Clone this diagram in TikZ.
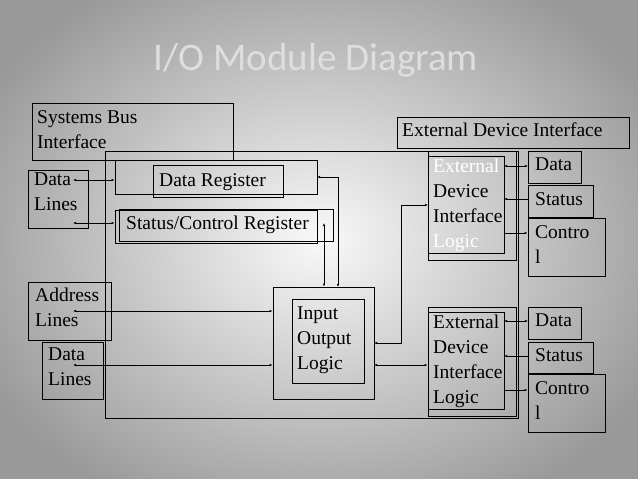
\documentclass[tikz,border=0pt]{standalone}
\usepackage{fontspec}
\setmainfont{Liberation Serif}
\newfontfamily\titlefont{Carlito}
\usetikzlibrary{positioning}
\usetikzlibrary{arrows.meta}
\definecolor{titlegray}{RGB}{222, 222, 222}
\tikzset{
	box/.style={draw=black, line width=0.9pt, inner sep=0pt},
	txt/.style={anchor=north west, inner sep=0pt, align=left, font=\fontsize{19.5}{25}\selectfont},
	link/.style={line width=0.7pt, {Latex[length=3pt,width=2.5pt]}-{Latex[length=3pt,width=2.5pt]}},
	tolink/.style={line width=0.7pt, -{Latex[length=3pt,width=2.5pt]}},
}
% name, x1, y1, x2, y2
\newcommand{\bx}[5]{\node[box, minimum width={(#4-#2)*1pt}, minimum height={(#5-#3)*1pt}] (#1) at ({(#2+#4)/2},{(#3+#5)/2}) {};}
\begin{document}
\begin{tikzpicture}[x=1pt, y=-1pt]
	\useasboundingbox (0,0) rectangle (638,479);
	\shade[inner color=gray!5, outer color=gray!80] (-60,-60) rectangle (698,539);
	\path[use as bounding box] (0,0) rectangle (638,479);
	
	%
	% Title
	\node[font=\titlefont\fontsize{39}{42}\selectfont, text=titlegray] at (316,60) (title) {I/O Module Diagram};
	
	%
	% Module boxes
	\bx{sbi}{32}{103}{233}{160}
	\bx{module}{105}{151}{518}{418}
	\bx{dl1}{28}{170}{88}{228}
	\bx{dr_out}{115}{160}{317}{194}
	\bx{dr_in}{153}{165}{283}{197}
	\bx{sc_out}{115}{210}{317}{243}
	\bx{sc_in}{119}{209}{333}{241}
	\bx{al}{28}{282}{111}{340}
	\bx{dl2}{42}{342}{103}{399}
	\bx{iol_out}{273}{287}{374}{399}
	\bx{iol_in}{292}{299}{364}{383}
	\bx{edi}{397}{117}{629}{148}
	
	% External device interface logic
	\bx{edil1_out}{428}{151}{516}{260}
	\bx{edil1_in}{428}{156}{504}{253}
	\bx{edil2_out}{428}{307}{516}{416}
	\bx{edil2_in}{428}{312}{504}{409}
	\bx{data1}{528}{151}{581}{183}
	\bx{status1}{528}{185}{593}{217}
	\bx{ctrl1}{528}{218}{605}{276}
	\bx{data2}{528}{307}{581}{339}
	\bx{status2}{528}{342}{593}{373}
	\bx{ctrl2}{528}{374}{605}{432}
	
	%
	% Texts
	\node[txt] at (37,110) (sbi_t) {Systems Bus\\Interface};
	\node[txt] at (34,173) (dl1_t) {Data\\Lines};
	\node[txt] at (159,173) (dr_t) {Data Register};
	\node[txt] at (126,216) (sc_t) {Status/Control Register};
	\node[txt] at (35,288) (al_t) {Address\\Lines};
	\node[txt] at (48,348) (dl2_t) {Data\\Lines};
	\node[txt] at (297,307) (iol_t) {Input\\Output\\Logic};
	\node[txt] at (402,123) (edi_t) {External Device Interface};
	\node[txt] at (433,159) (edil1_t) {\textcolor{white}{External}\\Device\\Interface\\\textcolor{white}{Logic}};
	\node[txt] at (433,315) (edil2_t) {External\\Device\\Interface\\Logic};
	\node[txt] at (535,158) (data1_t) {Data};
	\node[txt] at (535,192) (status1_t) {Status};
	\node[txt] at (535,225) (ctrl1_t) {Contro\\l};
	\node[txt] at (535,314) (data2_t) {Data};
	\node[txt] at (535,348) (status2_t) {Status};
	\node[txt] at (535,381) (ctrl2_t) {Contro\\l};
	
	%
	% Connectors
	\coordinate (dl1_a) at (73,180);
	\coordinate (dl1_b) at (73,223);
	\coordinate (al_a) at (73,311);
	\coordinate (dl2_a) at (73,365);
	\draw[link] (dl1_a) -- (dl1_a -| dr_out.west);
	\draw[link] (dl1_b) -- (dl1_b -| sc_out.west);
	\draw[link] (al_a) -- (al_a -| iol_out.west);
	\draw[link] (dl2_a) -- (dl2_a -| iol_out.west);
	
	\coordinate (dr_a) at (317,177);
	\coordinate (sc_a) at (324,223);
	\draw[link] (dr_a) -| (338,287);
	\draw[link] (sc_a) -- (sc_a |- iol_out.north);
	
	\coordinate (iol_a) at (374,343);
	\coordinate (iol_b) at (374,365);
	\draw[link] (iol_a) -| (401,205) -- (428,205);
	\draw[link] (iol_b) -- (iol_b -| edil2_in.west);
	
	\draw[link] (504,166) -- (528,166);
	\draw[tolink] (status1.west |- 0,199) -- (504,199);
	\draw[tolink] (504,233) -- (ctrl1.west |- 0,233);
	\draw[link] (504,321) -- (528,321);
	\draw[tolink] (status2.west |- 0,356) -- (504,356);
	\draw[tolink] (504,390) -- (ctrl2.west |- 0,390);
	
\end{tikzpicture}
\end{document}
